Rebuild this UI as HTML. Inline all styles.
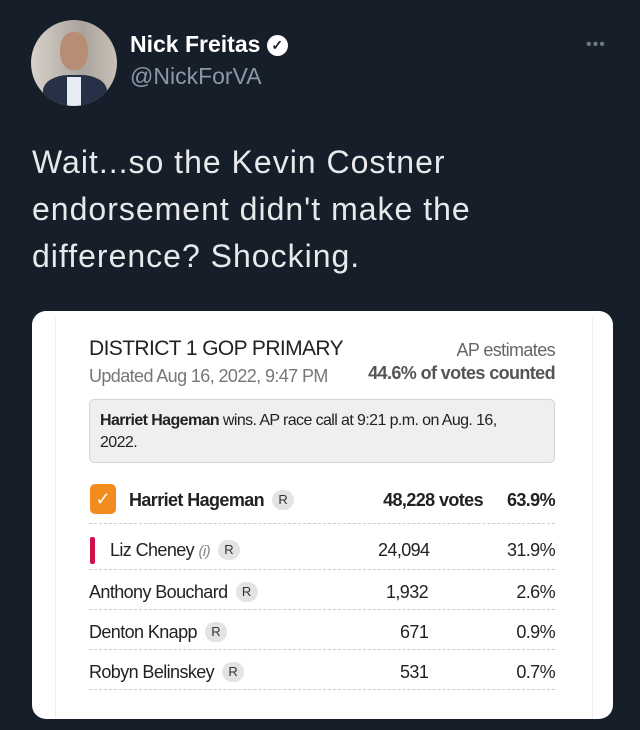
<!DOCTYPE html>
<html><head><meta charset="utf-8"><style>
*{margin:0;padding:0;box-sizing:border-box}
body{width:640px;height:730px;background:#161e29;font-family:"Liberation Sans",sans-serif;position:relative;overflow:hidden}
.a{position:absolute;white-space:nowrap}
.card{position:absolute;left:32px;top:311px;width:581px;height:408px;background:#fff;border-radius:14px}
.c{position:absolute;white-space:nowrap;color:#222;font-size:18px;letter-spacing:-0.6px}
.r{display:inline-block;width:22px;height:20px;border-radius:10px;background:#e3e3e3;font-size:13px;text-align:center;line-height:20px;color:#333;vertical-align:2px;margin-left:8px;letter-spacing:0;font-weight:normal}
.dash{position:absolute;left:89px;width:466px;border-top:1.5px dashed #ccc}
</style></head><body>
<div class="a" style="left:31px;top:20px;width:86px;height:86px;border-radius:50%;background:linear-gradient(90deg,#d8d2cc,#b9b2aa 40%,#a9a49c 60%,#c9c0b6);overflow:hidden">
<div class="a" style="left:29px;top:12px;width:28px;height:38px;border-radius:45%;background:#b88d76"></div>
<div class="a" style="left:12px;top:55px;width:64px;height:40px;border-radius:40% 40% 0 0;background:#263047"></div>
<div class="a" style="left:36px;top:57px;width:14px;height:30px;background:#e8ecf2"></div>
</div>
<div class="a" style="left:130px;top:31px;color:#fff;font-size:23px;font-weight:bold">Nick Freitas <span style="display:inline-block;width:21px;height:21px;border-radius:50%;background:#fff;color:#161e29;font-size:14px;text-align:center;line-height:21px;vertical-align:2px">✓</span></div>
<div class="a" style="left:130px;top:63px;color:#8b98a5;font-size:23px">@NickForVA</div>
<div class="a" style="left:586px;top:36px;color:#6e7a87;font-size:16px;letter-spacing:1px">•••</div>
<div class="a" style="left:32px;top:139px;color:#e7e9ea;font-size:32px;letter-spacing:1px;line-height:47px">Wait...so the Kevin Costner<br>endorsement didn't make the<br>difference? Shocking.</div>
<div class="card"></div>
<div class="a" style="left:55px;top:318px;width:1px;height:400px;background:#eee"></div>
<div class="a" style="left:592px;top:318px;width:1px;height:400px;background:#eee"></div>
<div class="c" style="left:89px;top:337px;font-size:21px">DISTRICT 1 GOP PRIMARY</div>
<div class="c" style="right:85px;top:340px;color:#666">AP estimates</div>
<div class="c" style="left:89px;top:366px;color:#777">Updated Aug 16, 2022, 9:47 PM</div>
<div class="c" style="right:85px;top:363px;color:#555;font-weight:bold">44.6% of votes counted</div>
<div class="a" style="left:89px;top:399px;width:466px;height:64px;background:#efefef;border:1px solid #d4d4d4;border-radius:5px"></div>
<div class="c" style="left:100px;top:410px;font-size:16px;line-height:22px"><b>Harriet Hageman</b> wins. AP race call at 9:21 p.m. on Aug. 16,<br>2022.</div>
<div class="a" style="left:90px;top:484px;width:26px;height:30px;border-radius:5px;background:#f28c1e;color:#fff;text-align:center;line-height:30px;font-size:18px">✓</div>
<div class="c" style="left:129px;top:490px;font-weight:bold">Harriet Hageman<span class="r">R</span></div>
<div class="c" style="right:157px;top:490px;font-weight:bold">48,228 votes</div>
<div class="c" style="right:85px;top:490px;font-weight:bold">63.9%</div>
<div class="dash" style="top:523px"></div>
<div class="a" style="left:90px;top:537px;width:5px;height:27px;background:#d10f4b;border-radius:2px"></div>
<div class="c" style="left:110px;top:540px">Liz Cheney <i style="color:#888;font-size:15px">(i)</i><span class="r">R</span></div>
<div class="c" style="left:378px;top:540px">24,094</div>
<div class="c" style="right:85px;top:540px">31.9%</div>
<div class="dash" style="top:569px"></div>
<div class="c" style="left:89px;top:582px">Anthony Bouchard<span class="r">R</span></div>
<div class="c" style="left:386px;top:582px">1,932</div>
<div class="c" style="right:85px;top:582px">2.6%</div>
<div class="dash" style="top:609px"></div>
<div class="c" style="left:89px;top:622px">Denton Knapp<span class="r">R</span></div>
<div class="c" style="left:400px;top:622px">671</div>
<div class="c" style="right:85px;top:622px">0.9%</div>
<div class="dash" style="top:649px"></div>
<div class="c" style="left:89px;top:662px">Robyn Belinskey<span class="r">R</span></div>
<div class="c" style="left:400px;top:662px">531</div>
<div class="c" style="right:85px;top:662px">0.7%</div>
<div class="dash" style="top:689px"></div>
</body></html>
